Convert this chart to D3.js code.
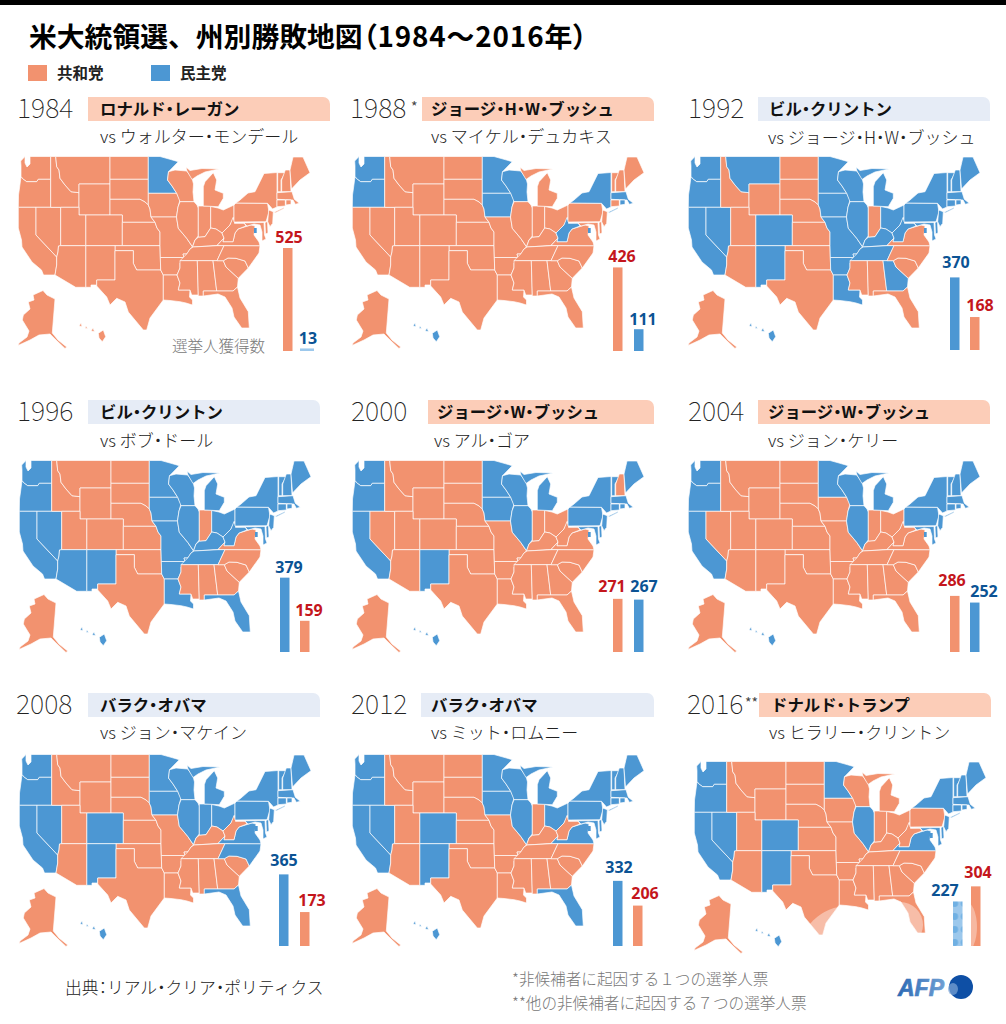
<!DOCTYPE html>
<html>
<head>
<meta charset="utf-8">
<script src="https://cdnjs.cloudflare.com/ajax/libs/d3/7.8.5/d3.min.js"></script>
<style>
  body { margin: 0; background: #fff; }
  text { font-family: "Noto Sans CJK JP", sans-serif; }
</style>
</head>
<body>
<script>
var w = 1006;
var h = 1024;

//Election data
var years = ["1984", "1988", "1992", "1996", "2000", "2004", "2008", "2012", "2016"];
var yearNotes = ["", "*", "", "", "", "", "", "", "**"];
var winners = ["ロナルド・レーガン", "ジョージ・H・W・ブッシュ", "ビル・クリントン", "ビル・クリントン", "ジョージ・W・ブッシュ", "ジョージ・W・ブッシュ", "バラク・オバマ", "バラク・オバマ", "ドナルド・トランプ"];
var losers = ["vs ウォルター・モンデール", "vs マイケル・デュカキス", "vs ジョージ・H・W・ブッシュ", "vs ボブ・ドール", "vs アル・ゴア", "vs ジョン・ケリー", "vs ジョン・マケイン", "vs ミット・ロムニー", "vs ヒラリー・クリントン"];
var repVotes = [525, 426, 168, 159, 271, 286, 173, 206, 304];
var demVotes = [13, 111, 370, 379, 267, 252, 365, 332, 227];

//States carried by the Democrats, everything else went Republican
var demStates = [
  ["MN", "DC"],
  ["WA", "OR", "MN", "WI", "IA", "WV", "NY", "MA", "RI", "HI", "DC"],
  ["WA", "OR", "CA", "NV", "MT", "CO", "NM", "MN", "IA", "MO", "AR", "LA", "WI", "IL", "MI", "OH", "KY", "TN", "GA", "WV", "MD", "DE", "PA", "NJ", "NY", "CT", "RI", "MA", "VT", "NH", "ME", "HI", "DC"],
  ["WA", "OR", "CA", "NV", "AZ", "NM", "MN", "IA", "MO", "AR", "LA", "WI", "IL", "MI", "OH", "KY", "TN", "FL", "WV", "MD", "DE", "PA", "NJ", "NY", "CT", "RI", "MA", "VT", "NH", "ME", "HI", "DC"],
  ["WA", "OR", "CA", "NM", "MN", "IA", "WI", "IL", "MI", "MD", "DE", "PA", "NJ", "NY", "CT", "RI", "MA", "VT", "ME", "HI", "DC"],
  ["WA", "OR", "CA", "MN", "WI", "IL", "MI", "MD", "DE", "PA", "NJ", "NY", "CT", "RI", "MA", "VT", "NH", "ME", "HI", "DC"],
  ["WA", "OR", "CA", "NV", "CO", "NM", "MN", "IA", "WI", "IL", "MI", "IN", "OH", "VA", "NC", "FL", "MD", "DE", "PA", "NJ", "NY", "CT", "RI", "MA", "VT", "NH", "ME", "HI", "DC"],
  ["WA", "OR", "CA", "NV", "CO", "NM", "MN", "IA", "WI", "IL", "MI", "OH", "VA", "FL", "MD", "DE", "PA", "NJ", "NY", "CT", "RI", "MA", "VT", "NH", "ME", "HI", "DC"],
  ["WA", "OR", "CA", "NV", "CO", "NM", "MN", "IL", "VA", "MD", "DE", "NJ", "NY", "CT", "RI", "MA", "VT", "NH", "ME", "HI", "DC"]
];

var stateOutlines = [
  ["WA", [[25,156.5],[25,163],[27,167],[30,164],[30,156.5],[50.7,156.5],[50.7,179.3],[38.3,179.3],[36.7,181.7],[26.7,181.7],[23.3,179.3],[21,176.7],[21,166],[20.7,161]]],
  ["OR", [[21,176.7],[23.3,179.3],[26.7,181.7],[36.7,181.7],[38.3,179.3],[50.7,179.3],[50.7,207.3],[18.3,207.3],[18.5,195],[19.5,188]]],
  ["CA", [[18.3,207.3],[36,207.3],[36,235],[56.7,257],[56.7,265],[55,275],[43.5,275],[41.5,270],[32,262],[22,247],[21.5,240],[18.3,228]]],
  ["NV", [[36,207.3],[60.7,207.3],[60.7,246],[58.5,246],[58,252],[56.7,257],[36,235]]],
  ["ID", [[50.7,156.5],[55.7,156.5],[56.7,166.7],[59,170],[60,178.3],[65,185],[71,191.7],[79,192.7],[79,207.3],[50.7,207.3]]],
  ["MT", [[55.7,156.5],[110,156.5],[110,184],[79,184],[79,192.7],[71,191.7],[65,185],[60,178.3],[59,170],[56.7,166.7]]],
  ["WY", [[79,184],[110,184],[110,215],[79,215]]],
  ["ND", [[110,156.5],[148.3,156.5],[148.3,179.3],[110,179.3]]],
  ["SD", [[110,179.3],[148.3,179.3],[148.3,205],[145,202],[140,199.3],[110,199.3]]],
  ["NE", [[110,199.3],[140,199.3],[145,202],[148.3,205],[150,209],[151,217],[155,222.3],[122.3,222.3],[122.3,215],[110,215]]],
  ["CO", [[85.7,215],[122.3,215],[122.3,245.7],[85.7,245.7]]],
  ["UT", [[60.7,207.3],[79,207.3],[79,215],[85.7,215],[85.7,245.7],[60.7,245.7]]],
  ["KS", [[122.3,222.3],[155,222.3],[157,228],[160,232],[160,245.7],[122.3,245.7]]],
  ["OK", [[115,245.7],[160,245.7],[160.7,270],[136.7,270],[133.3,263.3],[133.3,250.7],[115,250.7]]],
  ["NM", [[85.7,245.7],[115,245.7],[115,280],[96.7,280],[96.7,285],[91,285],[91,287.3],[85.7,287.3]]],
  ["AZ", [[60.7,245.7],[85.7,245.7],[85.7,287.3],[75.7,287.3],[55,275],[56.7,265],[56.7,257],[58,252],[58.5,246]]],
  ["TX", [[115,250.7],[133.3,250.7],[133.3,263.3],[136.7,270],[160.7,270],[163.3,275],[163.3,300],[150,318],[146.7,330],[143.3,330],[128.3,312],[125,302],[116.7,298.3],[110,305],[106.7,297],[96.7,286],[96.7,280],[115,280]]],
  ["MN", [[148.3,156.5],[160,156.5],[170,159.3],[178.3,161.7],[168.5,171.7],[167.5,180],[172,186],[176.7,193.3],[148.3,193.3]]],
  ["IA", [[148.3,193.3],[176.7,193.3],[180,200],[178,207],[176.5,217],[151,217],[150,209],[148.3,205]]],
  ["MO", [[151,217],[176.5,217],[178.3,228.3],[186.7,238.3],[192.5,247],[190,249],[187,254],[183,254],[184,257.5],[160.3,257.5],[160,245.7],[160,232],[157,228],[155,222.3]]],
  ["AR", [[160.3,257.5],[184,257.5],[183,254],[187,254],[186.7,257],[180,263],[180,268],[177,275],[163.3,275],[160.7,270]]],
  ["LA", [[163.3,275],[177,275],[180,283],[178.3,290],[190,290],[189.5,297],[192.5,300],[192.5,305],[186,303],[180,301.7],[170,300.5],[163.3,300]]],
  ["WI", [[168.5,171.7],[175,170],[186.7,171],[192,178],[193.5,184],[193,192],[194,201.7],[180,201.7],[176.7,193.3],[172,186],[167.5,180]]],
  ["IL", [[180,201.7],[194,201.7],[197,205],[198.3,208],[198.3,236],[195,240],[192.5,246.7],[186.7,238.3],[178.3,228.3],[176.5,217],[178,207]]],
  ["IN", [[198.3,206],[210.7,206],[210.7,228],[205,236.7],[198.3,237.3]]],
  ["OH", [[210.7,206.5],[218,208],[223.3,210],[234,205],[234,217],[230,225],[222,233],[216,229],[210.7,228]]],
  ["MI", [[203.3,206],[203.3,186.7],[205,181.7],[213.3,172.7],[216.7,180],[215,190],[223.3,193.3],[223.3,198.3],[218.3,206.7]], [[186,167],[190,170.5],[202,168.5],[219,169],[205,172],[197,176],[192,179.5],[187,171]]],
  ["KY", [[192.5,247],[195,240],[198.3,237.3],[205,236.7],[210.7,228],[216,229],[222,233],[224,238],[217,245.5]]],
  ["TN", [[193,247],[217,245.7],[224,245.7],[217,260.7],[180,260.7],[186.7,254],[190,249]]],
  ["MS", [[180,260.7],[197.3,260.7],[198.3,295],[191.7,295],[190,290],[178.3,290],[180,283],[177,275],[180,268]]],
  ["AL", [[197.3,260.7],[213,260.7],[216.7,291],[203.3,291],[203.3,296],[198.3,296]]],
  ["GA", [[213,260.7],[223.3,260.7],[226,267],[238.3,278.3],[237.5,287],[233,291],[216.7,291]]],
  ["FL", [[203.3,291],[233,291],[237.5,287],[240,298],[248.3,311.7],[249.3,328],[241.7,328],[234,317],[232,308],[225,297],[218,294],[203.3,296]]],
  ["SC", [[223.3,260.7],[228,258],[236,258.3],[245,261],[248.3,268],[238.3,278.3],[226,267]]],
  ["NC", [[224,245.7],[260,245.7],[259,253],[248.3,268],[245,261],[236,258.3],[228,258],[223.3,260.7],[217,260.7]]],
  ["VA", [[217,245.5],[224,238],[223,241.7],[233,241.7],[235,233],[238,229],[251,225],[255,226],[254,235],[259,242],[260,245.7]]],
  ["WV", [[222,233],[230,225],[233,217.5],[235,223],[244,223],[246,226],[238,229],[235,233],[233,241.7],[223,241.7],[224,238]]],
  ["PA", [[234,205],[236,203],[267.5,203.3],[269,212],[266,221.7],[234,222]]],
  ["NY", [[236,203],[240,200],[248,193],[255,191.7],[264,173.5],[277,172.5],[277,207],[272.5,209],[267.5,203.3]], [[274.5,212],[284,207.5],[284,208.5],[275,213]]],
  ["VT", [[277.7,172.7],[285.3,172.7],[281,180],[281,191.7],[277.7,191.7]]],
  ["NH", [[285.3,170],[290,170],[291,191.7],[281.7,191.7],[281.7,180]]],
  ["ME", [[290,170],[293,157],[303,157],[310,172.7],[300,180],[291.5,189]]],
  ["MA", [[277,192.7],[292,191.7],[294.3,199.3],[299.3,203.3],[295.3,204.3],[293,200],[277,199.3]]],
  ["CT", [[277,200],[285.3,200],[285.3,206],[277,206.7]]],
  ["RI", [[286,200],[291,200],[291,204.3],[286,205]]],
  ["NJ", [[268.7,210],[273.3,211.7],[272.7,223.3],[270,226.7],[267.7,221.7]]],
  ["MD", [[234,223],[264,222.5],[264.5,235],[266,239],[262,241],[262,232],[260,225],[254,224],[247,226],[244,223]]],
  ["DE", [[265,222.5],[267.5,221.5],[268,233],[265.5,234]]],
  ["DC", [[254,228],[256.7,228],[256.7,233],[254,233]]],
  ["AK", [[33,295],[43,290.5],[47,295],[55,299],[52.3,333],[58,340],[66.7,347],[65,348.5],[55,339],[50,334],[39,335],[30,340],[18,345.5],[19,343],[27,337],[29,331],[22.3,320],[23.3,315],[30,309],[28.3,302],[34,300]]],
  ["HI", [[98.3,333.3],[103.3,330],[105.7,336.7],[102.3,341.7],[99,338]], [[79,326],[81,323],[82,326.5]], [[85,328.5],[86,326],[87.5,328.5]], [[91,331],[93,328],[94.5,331.5]]]
];

//Colours
var repColor = "#f2926f";
var demColor = "#4c97d3";
var repPill = "#fccdb8";
var demPill = "#e6ecf6";
var repText = "#c4161c";
var demText = "#0b5394";
var grey = "#777777";

//Panel layout, one row per year
var panels = [
  { yearX: 17,  yearY: 118, noteX: 0,   pillX: 88,  pillW: 242, pillY: 97,  nameX: 100, vsX: 100, vsY: 143, mapDx: 0,   mapDy: 0,   base: 351, repX: 283, demX: 300, repLabel: [289, 243], demLabel: [308, 344] },
  { yearX: 350, yearY: 118, noteX: 411, pillX: 422, pillW: 232, pillY: 97,  nameX: 431, vsX: 431, vsY: 143, mapDx: 334, mapDy: 0,   base: 351, repX: 613, demX: 634, repLabel: [622, 262], demLabel: [643, 325] },
  { yearX: 688, yearY: 118, noteX: 0,   pillX: 758, pillW: 232, pillY: 97,  nameX: 769, vsX: 768, vsY: 144, mapDx: 670, mapDy: 0,   base: 350, repX: 970, demX: 950, repLabel: [980, 311], demLabel: [956, 268] },
  { yearX: 17,  yearY: 421, noteX: 0,   pillX: 88,  pillW: 232, pillY: 400, nameX: 100, vsX: 100, vsY: 447, mapDx: 1,   mapDy: 304, base: 652, repX: 300, demX: 280, repLabel: [309, 616], demLabel: [289, 573] },
  { yearX: 351, yearY: 421, noteX: 0,   pillX: 428, pillW: 226, pillY: 400, nameX: 437, vsX: 434, vsY: 447, mapDx: 334, mapDy: 304, base: 652, repX: 613, demX: 634, repLabel: [612, 592], demLabel: [644, 592] },
  { yearX: 688, yearY: 421, noteX: 0,   pillX: 758, pillW: 232, pillY: 400, nameX: 768, vsX: 768, vsY: 447, mapDx: 670, mapDy: 304, base: 652, repX: 950, demX: 970, repLabel: [952, 586], demLabel: [984, 597] },
  { yearX: 16,  yearY: 714, noteX: 0,   pillX: 88,  pillW: 232, pillY: 693, nameX: 100, vsX: 100, vsY: 739, mapDx: 1,   mapDy: 598, base: 946, repX: 300, demX: 279, repLabel: [312, 906], demLabel: [284, 866] },
  { yearX: 351, yearY: 714, noteX: 0,   pillX: 421, pillW: 233, pillY: 693, nameX: 431, vsX: 431, vsY: 739, mapDx: 334, mapDy: 598, base: 946, repX: 633, demX: 613, repLabel: [645, 899], demLabel: [619, 873] },
  { yearX: 687, yearY: 714, noteX: 745, pillX: 759, pillW: 232, pillY: 693, nameX: 771, vsX: 769, vsY: 739, mapDx: 676, mapDy: 605, base: 946, repX: 971, demX: 953, repLabel: [978, 878], demLabel: [945, 896] }
];

//GeoJSON rings have to be closed
var stateFeatures = stateOutlines.map(function(d) {
  return {
    type: "Feature",
    id: d[0],
    geometry: {
      type: "MultiPolygon",
      coordinates: d.slice(1).map(function(ring) { return [ring.concat([ring[0]])]; })
    }
  };
});

var barWidth = 9.5;
var barScale = d3.scaleLinear().domain([0, 525]).range([0, 103]);

//Writes a string with narrow middle dots and colons, the way the reference sets them
function setKana(sel, str) {
  str.split(/([・：])/).forEach(function(part) {
    if (part === "") return;
    var narrow = part === "・" || part === "：";
    sel.append("tspan")
      .style("font-feature-settings", narrow ? "'palt'" : null)
      .text(part);
  });
}

//Create SVG element
var svg = d3.select("body")
  .append("svg")
  .attr("width", w)
  .attr("height", h)
  .style("display", "block");

var defs = svg.append("defs");

//Dotted fill for the faded 2016 bar
var dots = defs.append("pattern")
  .attr("id", "dots")
  .attr("patternUnits", "userSpaceOnUse")
  .attr("width", 9.5)
  .attr("height", 13);
dots.append("rect").attr("width", 9.5).attr("height", 13).attr("fill", "#9cc8ec");
dots.append("circle").attr("cx", 4.7).attr("cy", 6.5).attr("r", 3.4).attr("fill", "#6fb0e3");

var logoFill = defs.append("linearGradient").attr("id", "logoFill");
logoFill.append("stop").attr("offset", "0%").attr("stop-color", "#2b69b4");
logoFill.append("stop").attr("offset", "100%").attr("stop-color", "#6f9fd3");

//Header
svg.append("rect").attr("width", w).attr("height", 5).attr("fill", "#000");

var title = svg.append("text")
  .attr("x", 29)
  .attr("y", 47)
  .attr("font-size", 27.8)
  .attr("font-weight", 700);

title.append("tspan").text("米大統領選、州別勝敗地図");
title.append("tspan")
  .style("font-feature-settings", "'palt'")
  .style("letter-spacing", "0.9px")
  .text("（1984〜2016年）");

var legendNames = ["共和党", "民主党"];
var legendColors = [repColor, demColor];
var legendX = d3.scaleOrdinal().domain(legendNames).range([28, 151]);

var legend = svg.selectAll(".legend")
  .data(legendNames)
  .enter()
  .append("g")
  .attr("class", "legend")
  .attr("transform", function(d) { return "translate(" + legendX(d) + ",65)"; });

legend.append("rect")
  .attr("width", 19)
  .attr("height", 16)
  .attr("fill", function(d, i) { return legendColors[i]; });

legend.append("text")
  .attr("x", 29)
  .attr("y", 14)
  .attr("font-size", 15.5)
  .attr("font-weight", 700)
  .attr("fill", "#222")
  .text(function(d) { return d; });

//One panel per election
panels.forEach(function(p, i) {
  var demWon = demVotes[i] > repVotes[i];
  var dem = demStates[i];
  var g = svg.append("g");

  g.append("text")
    .attr("x", p.yearX)
    .attr("y", p.yearY)
    .attr("font-size", 27)
    .attr("font-weight", 100)
    .attr("fill", "#222")
    .text(years[i]);

  if (yearNotes[i]) {
    g.append("text")
      .attr("x", p.noteX)
      .attr("y", p.yearY - 6)
      .attr("font-size", 14)
      .attr("fill", "#444")
      .text(yearNotes[i]);
  }

  //Pill with only the top right corner rounded
  var pillPath = d3.path();
  pillPath.moveTo(p.pillX, p.pillY);
  pillPath.lineTo(p.pillX + p.pillW - 7, p.pillY);
  pillPath.arcTo(p.pillX + p.pillW, p.pillY, p.pillX + p.pillW, p.pillY + 7, 7);
  pillPath.lineTo(p.pillX + p.pillW, p.pillY + 24);
  pillPath.lineTo(p.pillX, p.pillY + 24);
  pillPath.closePath();

  g.append("path")
    .attr("d", pillPath.toString())
    .attr("fill", demWon ? demPill : repPill);

  g.append("text")
    .attr("x", p.nameX)
    .attr("y", p.pillY + 18)
    .attr("font-size", 16.4)
    .attr("font-weight", 700)
    .attr("fill", "#111")
    .call(setKana, winners[i]);

  g.append("text")
    .attr("x", p.vsX)
    .attr("y", p.vsY)
    .attr("font-size", 17)
    .attr("font-weight", 300)
    .attr("fill", "#222")
    .call(setKana, losers[i]);

  //Map, the same outlines moved into each panel
  var xMap = d3.scaleLinear().domain([18, 310]).range([18 + p.mapDx, 310 + p.mapDx]);
  var yMap = d3.scaleLinear().domain([156, 348]).range([156 + p.mapDy, 348 + p.mapDy]);
  var mapPath = d3.geoPath(d3.geoTransform({
    point: function(x, y) { this.stream.point(xMap(x), yMap(y)); }
  }));

  g.append("g")
    .selectAll("path")
    .data(stateFeatures)
    .enter()
    .append("path")
    .attr("d", mapPath)
    .attr("fill", function(d) { return dem.indexOf(d.id) >= 0 ? demColor : repColor; })
    .attr("stroke", "#fff")
    .attr("stroke-opacity", function(d) { return d.id === "DC" ? 0 : 0.85; })
    .attr("stroke-width", 0.8)
    .attr("stroke-linejoin", "round");

  //Bars
  var bars = [
    { party: "rep", votes: repVotes[i], x: p.repX, label: p.repLabel },
    { party: "dem", votes: demVotes[i], x: p.demX, label: p.demLabel }
  ];

  g.selectAll(".bar")
    .data(bars)
    .enter()
    .append("rect")
    .attr("class", "bar")
    .attr("x", function(d) { return d.x; })
    .attr("y", function(d) { return p.base - barScale(d.votes); })
    .attr("width", function(d) { return d.votes < 20 ? 14 : barWidth; })
    .attr("height", function(d) { return barScale(d.votes); })
    .attr("fill", function(d) {
      if (d.votes < 20) return "#9cc8ec";
      if (years[i] === "2016" && d.party === "dem") return "url(#dots)";
      return d.party === "rep" ? repColor : demColor;
    });

  g.selectAll(".vote")
    .data(bars)
    .enter()
    .append("text")
    .attr("class", "vote")
    .attr("x", function(d) { return d.label[0]; })
    .attr("y", function(d) { return d.label[1]; })
    .attr("text-anchor", "middle")
    .attr("font-size", 16)
    .attr("font-weight", 700)
    .attr("fill", function(d) { return d.party === "rep" ? repText : demText; })
    .style("font-family", "'Noto Sans', sans-serif")
    .text(function(d) { return d.votes; });

  //Faded watermark patches over the last map
  if (years[i] === "2016") {
    var clip = defs.append("clipPath").attr("id", "mapClip");
    clip.selectAll("path").data(stateFeatures).enter().append("path").attr("d", mapPath);

    var fades = [[848, 955, 49], [900, 925, 23]];
    g.append("g")
      .attr("clip-path", "url(#mapClip)")
      .selectAll("circle")
      .data(fades)
      .enter()
      .append("circle")
      .attr("cx", function(d) { return d[0]; })
      .attr("cy", function(d) { return d[1]; })
      .attr("r", function(d) { return d[2]; })
      .attr("fill", "#fff")
      .attr("opacity", 0.4);

    var barClip = defs.append("clipPath").attr("id", "barClip");
    barClip.append("rect")
      .attr("x", p.repX)
      .attr("y", p.base - barScale(repVotes[i]))
      .attr("width", barWidth)
      .attr("height", barScale(repVotes[i]));

    g.append("ellipse")
      .attr("clip-path", "url(#barClip)")
      .attr("cx", p.repX - 6)
      .attr("cy", 927)
      .attr("rx", 12)
      .attr("ry", 26)
      .attr("fill", "#fff")
      .attr("opacity", 0.35);
  }
});

//Small captions
svg.append("text")
  .attr("x", 172)
  .attr("y", 352)
  .attr("font-size", 15.5)
  .attr("font-weight", 300)
  .attr("fill", grey)
  .text("選挙人獲得数");

svg.append("text")
  .attr("x", 65)
  .attr("y", 994)
  .attr("font-size", 16.8)
  .attr("font-weight", 300)
  .attr("fill", "#222")
  .call(setKana, "出典：リアル・クリア・ポリティクス");

var footnotes = ["*非候補者に起因する１つの選挙人票", "**他の非候補者に起因する７つの選挙人票"];
var footnoteY = d3.scalePoint().domain(footnotes).range([985, 1009]);

svg.selectAll(".footnote")
  .data(footnotes)
  .enter()
  .append("text")
  .attr("class", "footnote")
  .attr("x", 512)
  .attr("y", function(d) { return footnoteY(d); })
  .attr("font-size", 15.6)
  .attr("font-weight", 300)
  .attr("fill", grey)
  .text(function(d) { return d; });

//AFP logo
svg.append("text")
  .attr("x", 898)
  .attr("y", 996)
  .attr("font-size", 23)
  .attr("font-weight", 700)
  .attr("font-style", "italic")
  .attr("fill", "url(#logoFill)")
  .attr("stroke", "url(#logoFill)")
  .attr("stroke-width", 0.7)
  .style("font-family", "'Liberation Sans', sans-serif")
  .text("AFP");

svg.append("circle").attr("cx", 961).attr("cy", 987).attr("r", 12).attr("fill", "#0e4fa5");
svg.append("ellipse").attr("cx", 953).attr("cy", 989).attr("rx", 5).attr("ry", 6).attr("fill", "#7fa6d6").attr("opacity", 0.7);
</script>
</body>
</html>
